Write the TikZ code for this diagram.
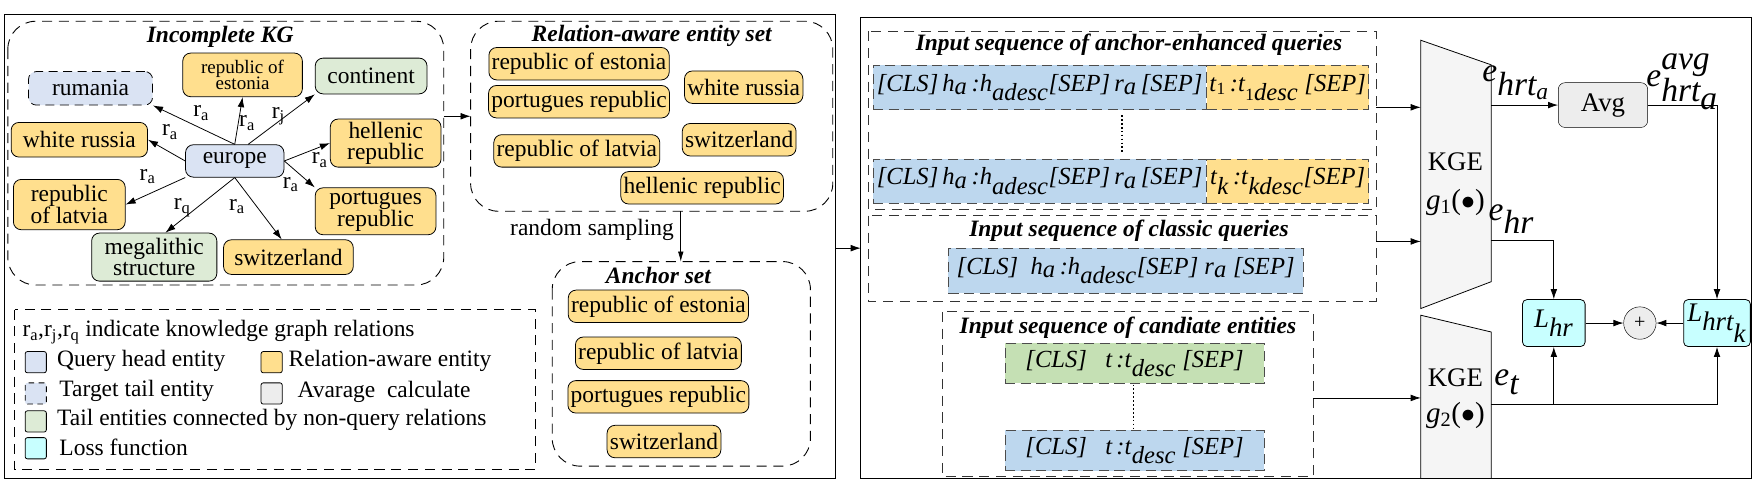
\documentclass[tikz,border=0pt]{standalone}
\usepackage{fontspec}
\setmainfont{Liberation Serif}
\usetikzlibrary{arrows.meta}
\definecolor{qblue}{HTML}{DAE3F3}
\definecolor{sblue}{HTML}{BDD7EE}
\definecolor{ryel}{HTML}{FFDF8E}
\definecolor{tgreen}{HTML}{DDEBD6}
\definecolor{sgreen}{HTML}{C5E0B4}
\definecolor{lcyan}{HTML}{C8FFFF}
\definecolor{agrey}{HTML}{EDEDED}
\newcommand{\sq}[1]{\textsubscript{#1}}
\newcommand{\ti}[1]{\textit{#1}}
\newcommand{\isub}[1]{$_{\textit{#1}}$}
\tikzset{
 ent/.style={draw,rounded corners=7pt,fill=ryel,font=\fontsize{21}{19}\selectfont,inner sep=2.5pt,align=center,line width=0.7pt,minimum height=29pt},
 qent/.style={ent,fill=qblue},
 gent/.style={ent,fill=tgreen},
 dbox/.style={draw,dashed,dash pattern=on 9pt off 6pt,rounded corners=25pt,line width=0.8pt},
 sbox/.style={draw,dashed,dash pattern=on 9pt off 6pt,line width=0.8pt,gray!40!black},
 ttl/.style={font=\fontsize{21}{20}\selectfont\bfseries\itshape},
 seq/.style={draw,dashed,dash pattern=on 9pt off 5pt,gray!60!black,text=black,minimum height=38pt,inner sep=2pt,font=\fontsize{22}{22}\selectfont},
 arr/.style={-{Latex[length=9pt,width=6pt]},line width=0.7pt},
 lbl/.style={font=\fontsize{21}{18}\selectfont,inner sep=1pt},
 leg/.style={font=\fontsize{21}{18}\selectfont,anchor=west,inner sep=1pt},
 sw/.style={draw,rounded corners=2pt,minimum width=19pt,minimum height=19pt,inner sep=0pt,line width=0.7pt},
 kge/.style={draw,fill=gray!8,line width=0.7pt},
 loss/.style={draw,rounded corners=4pt,fill=lcyan,minimum width=56pt,minimum height=42pt,font=\fontsize{24}{22}\selectfont,line width=0.7pt},
 elab/.style={font=\fontsize{30}{30}\selectfont,inner sep=0pt},
}
\begin{document}
\begin{tikzpicture}[x=1pt,y=-1pt]
\useasboundingbox (0,0) rectangle (1570,449);
% outer boxes
\draw[line width=0.8pt] (4,13) rectangle (747,428);
\draw[line width=0.8pt] (770,16) rectangle (1567,428);
% Incomplete KG
\draw[dbox] (7,19) rectangle (397,255);
\node[ttl] at (197,33) {Incomplete KG};
\node[qent,dashed,dash pattern=on 8pt off 5pt,minimum width=111pt,minimum height=30pt] (rum) at (81,79) {rumania};
\node[ent,minimum width=107pt,minimum height=39pt,font=\fontsize{17}{15}\selectfont] (est) at (217,67) {republic of\\estonia};
\node[gent,minimum width=100pt,minimum height=32pt] (con) at (332,68) {continent};
\node[ent,minimum width=122pt,minimum height=31pt] (wr) at (71,125) {white russia};
\node[qent,minimum width=88pt,minimum height=29pt] (eu) at (210,144) {europe};
\node[ent,minimum width=99pt,minimum height=43pt] (hel) at (345,128) {hellenic\\republic};
\node[ent,minimum width=100pt,minimum height=45pt] (lat) at (62,183) {republic\\of latvia};
\node[ent,minimum width=108pt,minimum height=42pt] (por) at (336,189) {portugues\\republic};
\node[gent,minimum width=112pt,minimum height=43pt] (meg) at (138,230) {megalithic\\structure};
\node[ent,minimum width=116pt,minimum height=31pt] (swi) at (258,230) {switzerland};
\draw[arr] (eu.north) -- (rum.south east);
\draw[arr] (eu.north) -- (est.south);
\draw[arr] ([xshift=12pt]eu.north) -- (con.south west);
\draw[arr] (eu.west) -- (wr.east);
\draw[arr] (eu.east) -- (hel.west);
\draw[arr] (eu.south west) -- (lat.east);
\draw[arr] (eu.east) -- (por.north west);
\draw[arr] (eu.south) -- ([xshift=10pt]meg.north);
\draw[arr] (eu.south) -- ([xshift=-6pt]swi.north);
\node[lbl] at (180,101) {r\sq{a}};
\node[lbl] at (221,110) {r\sq{a}};
\node[lbl] at (249,104) {r\sq{j}};
\node[lbl] at (152,118) {r\sq{a}};
\node[lbl] at (286,143) {r\sq{a}};
\node[lbl] at (132,158) {r\sq{a}};
\node[lbl] at (260,165) {r\sq{a}};
\node[lbl] at (163,186) {r\sq{q}};
\node[lbl] at (212,185) {r\sq{a}};
% relation aware set
\draw[dbox] (421,19) rectangle (745,189);
\node[ttl] at (583,32) {Relation-aware entity set};
\node[ent] (s1) at (518,57) {republic of estonia};
\node[ent,anchor=west] (s2) at (612,78) {white russia};
\node[ent] (s3) at (518,91) {portugues republic};
\node[ent] (s4) at (516,135) {republic of latvia};
\node[ent,anchor=west] (s5) at (610,125) {switzerland};
\node[ent,anchor=west] (s6) at (555,168) {hellenic republic};
\coordinate (kgR) at (397,104); \coordinate (raL) at (421,104);
\draw[arr] (kgR) -- (raL);
% anchor set
\draw[dbox] (494,234) rectangle (725,417);
\node[ttl] at (589,246) {Anchor set};
\node[ent] (a1) at (589,274) {republic of estonia};
\node[ent] (a2) at (589,316) {republic of latvia};
\node[ent] (a3) at (589,355) {portugues republic};
\node[ent] (a4) at (594,395) {switzerland};
\coordinate (raB) at (609,189); \coordinate (anT) at (609,234);
\draw[-{Latex[length=9pt,width=5pt]},line width=0.6pt] (raB) -- (anT);
\node[lbl,anchor=east] at (604,206) {random sampling};
% legend
\draw[sbox,black] (13,277) rectangle (479,420);
\node[leg] at (19,297) {r\sq{a},r\sq{j},r\sq{q} indicate knowledge graph relations};
\node[sw,fill=qblue] (l1) at (32,324) {}; \node[leg] at (50,323) {Query head entity};
\node[sw,fill=ryel] (l2) at (243,324) {}; \node[leg] at (257,323) {Relation-aware entity};
\node[sw,fill=qblue,dashed,dash pattern=on 5pt off 4pt] (l3) at (32,352) {}; \node[leg] at (52,350) {Target tail entity};
\node[sw,fill=agrey] (l4) at (243,352) {}; \node[leg] at (265,351) {Avarage\ \ calculate};
\node[sw,fill=tgreen] (l5) at (32,377) {}; \node[leg] at (50,376) {Tail entities connected by non-query relations};
\node[sw,fill=lcyan] (l6) at (32,401) {}; \node[leg] at (52,400) {Loss function};
\coordinate (lbR) at (747,222); \coordinate (rbL) at (770,222);
\draw[arr] (lbR) -- (rbL);
% right panel: anchor-enhanced
\draw[sbox] (777,28) rectangle (1231,187);
\node[ttl] at (1010,40) {Input sequence of anchor-enhanced queries};
\node[seq,fill=sblue,minimum width=298pt,minimum height=40pt] (q1) at (930,78) {\ti{[CLS]\,h}\isub{a}\,\ti{:h}\isub{adesc}\ti{[SEP]\,r}\isub{a}\,\ti{[SEP]}};
\node[seq,fill=ryel,minimum width=145pt,minimum height=40pt,anchor=west] (t1) at (q1.east) {\ti{t}$_{\mathrm{1}}$\ti{\,:t}$_{\mathrm{1}\textit{desc}}$\ \ti{[SEP]}};
\node[seq,fill=sblue,minimum width=298pt,minimum height=40pt] (q2) at (930,162) {\ti{[CLS]\,h}\isub{a}\,\ti{:h}\isub{adesc}\ti{[SEP]\,r}\isub{a}\,\ti{[SEP]}};
\node[seq,fill=ryel,minimum width=145pt,minimum height=40pt,anchor=west] (t2) at (q2.east) {\ti{t}\isub{k}\ti{\,:t}\isub{kdesc}\ti{[SEP]}};
\draw[dotted,line width=1.5pt] (1004,103) -- (1004,138);
% classic
\draw[sbox] (777,193) rectangle (1231,270);
\node[ttl] at (1010,206) {Input sequence of classic queries};
\node[seq,fill=sblue,minimum width=317pt,minimum height=40pt] (q3) at (1007,242) {\ti{[CLS]}\ \ \ti{h}\isub{a}\ti{\,:h}\isub{adesc}\ti{[SEP]}\ \ti{r}\isub{a}\ \ti{[SEP]}};
% candidate
\draw[sbox] (843,279) rectangle (1175,426);
\node[ttl] at (1009,293) {Input sequence of candiate entities};
\node[seq,fill=sgreen,minimum width=232pt,minimum height=36pt] (c1) at (1015,325) {\ti{[CLS]}\ \ \ \ti{t\,:t}\isub{desc}\ \ti{[SEP]}};
\node[seq,fill=sblue,minimum width=232pt,minimum height=36pt] (c2) at (1015,403) {\ti{[CLS]}\ \ \ \ti{t\,:t}\isub{desc}\ \ti{[SEP]}};
\draw[dotted,line width=1.5pt] (1014,344) -- (1014,384);
% KGE
\draw[kge] (1271,36) -- (1334,58) -- (1334,252) -- (1271,276) -- cycle;
\node[font=\fontsize{24}{22}\selectfont] (k1) at (1302,145) {KGE};
\node[font=\fontsize{26}{22}\selectfont] at (1302,181) {\textit{g}$_{\mathrm{1}}$($\bullet$)};
\draw[kge] (1271,282) -- (1334,297) -- (1334,428) -- (1271,428) -- cycle;
\node[font=\fontsize{24}{22}\selectfont] (k2) at (1302,338) {KGE};
\node[font=\fontsize{26}{22}\selectfont] at (1302,372) {\textit{g}$_{\mathrm{2}}$($\bullet$)};
\coordinate (aeR) at (1231,96); \coordinate (k1a) at (1271,96);
\coordinate (clR) at (1231,216); \coordinate (k1b) at (1271,216);
\coordinate (caR) at (1175,356); \coordinate (k2a) at (1271,356);
\draw[arr] (aeR) -- (k1a);
\draw[arr] (clR) -- (k1b);
\draw[arr] (caR) -- (k2a);
% outputs
\node[draw,rounded corners=6pt,fill=agrey,minimum width=80pt,minimum height=40pt,font=\fontsize{24}{22}\selectfont] (avg) at (1434,94) {Avg};
\node[loss] (lhr) at (1390,289) {\textit{L}\isub{hr}};
\node[loss] (lhrt) at (1536,289) {\textit{L}$_{\textit{hrt}_{\textit{k}}}$};
\node[draw,circle,fill=agrey,minimum size=29pt,inner sep=0pt,font=\fontsize{18}{16}\selectfont] (plus) at (1467,289) {+};
\coordinate (k1o1) at (1334,94);
\coordinate (k1o2) at (1334,215);
\coordinate (k2o) at (1334,362);
\draw[arr] (k1o1) -- (avg.west);
\draw[arr] (avg.east) -| (lhrt.north);
\draw[arr] (k1o2) -| (lhr.north);
\draw[arr] (k2o) -| (lhrt.south);
\draw[arr] (lhr.south |- k2o) -- (lhr.south);
\draw[arr] (lhr.east) -- (plus.west);
\draw[arr] (lhrt.west) -- (plus.east);
\node[elab] at (1356,74) {\textit{e}\isub{hrt\textsubscript{a}}};
\node[elab] at (1505,73) {\textit{e}$^{\textit{avg}}_{\textit{hrt}_{\textit{a}}}$};
\node[elab] at (1352,196) {\textit{e}\isub{hr}};
\node[elab] at (1348,342) {\textit{e}\isub{t}};
\end{tikzpicture}
\end{document}
